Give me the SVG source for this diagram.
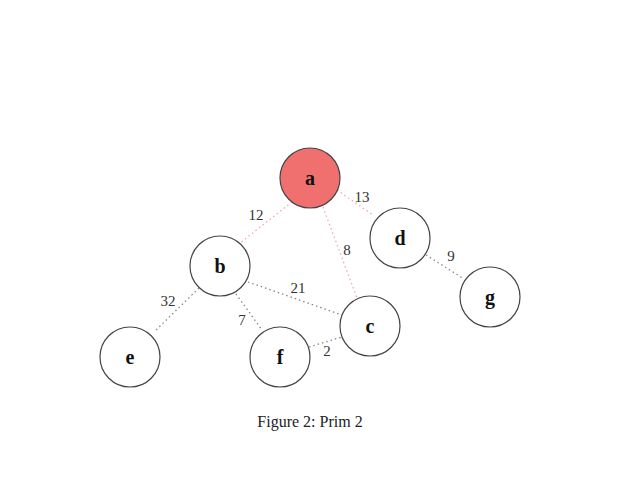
<svg xmlns="http://www.w3.org/2000/svg" width="638" height="479" viewBox="0 0 638 479">
<style>
.n circle{fill:#fff;stroke:#444;stroke-width:1.2}
.n text{font-family:"Liberation Serif",serif;font-size:20px;font-weight:bold;text-anchor:middle;fill:#111}
.e{stroke:#888;stroke-width:1.3;stroke-dasharray:1.5 3;fill:none}
.p{stroke:#f0a8a8}
.l{font-family:"Liberation Serif",serif;font-size:15px;fill:#333;text-anchor:middle}
</style>
<rect width="638" height="479" fill="#fff"/>
<g id="connectors">
<line class="e p" x1="292" y1="202" x2="240" y2="243"/>
<line class="e p" x1="337" y1="190" x2="373" y2="215"/>
<line class="e p" x1="323" y1="207" x2="357" y2="298"/>
<line class="e" x1="426" y1="255" x2="464" y2="279"/>
<line class="e" x1="248" y1="282" x2="342" y2="315"/>
<line class="e" x1="199" y1="288" x2="154" y2="332"/>
<line class="e" x1="236" y1="294" x2="262" y2="330"/>
<line class="e" x1="309" y1="347" x2="342" y2="337"/>
<text class="l" x="256" y="220">12</text>
<text class="l" x="362" y="202">13</text>
<text class="l" x="347" y="255">8</text>
<text class="l" x="451" y="261">9</text>
<text class="l" x="298" y="293">21</text>
<text class="l" x="168" y="306">32</text>
<text class="l" x="242" y="325">7</text>
<text class="l" x="327" y="356">2</text>
</g>
<g id="a" class="n"><circle cx="310" cy="178" r="30" style="fill:#f07070"/><text x="310" y="185">a</text></g>
<g id="d" class="n"><circle cx="400" cy="238" r="30"/><text x="400" y="245">d</text></g>
<g id="g" class="n"><circle cx="490" cy="297" r="30"/><text x="490" y="304">g</text></g>
<g id="b" class="n"><circle cx="220" cy="266" r="30"/><text x="220" y="273">b</text></g>
<g id="c" class="n"><circle cx="370" cy="326" r="30"/><text x="370" y="333">c</text></g>
<g id="e" class="n"><circle cx="130" cy="357" r="30"/><text x="130" y="364">e</text></g>
<g id="f" class="n"><circle cx="280" cy="357" r="30"/><text x="280" y="364">f</text></g>
<text x="310" y="427" style="font-family:'Liberation Serif',serif;font-size:16px;text-anchor:middle;fill:#222">Figure 2:  Prim 2</text>
</svg>
